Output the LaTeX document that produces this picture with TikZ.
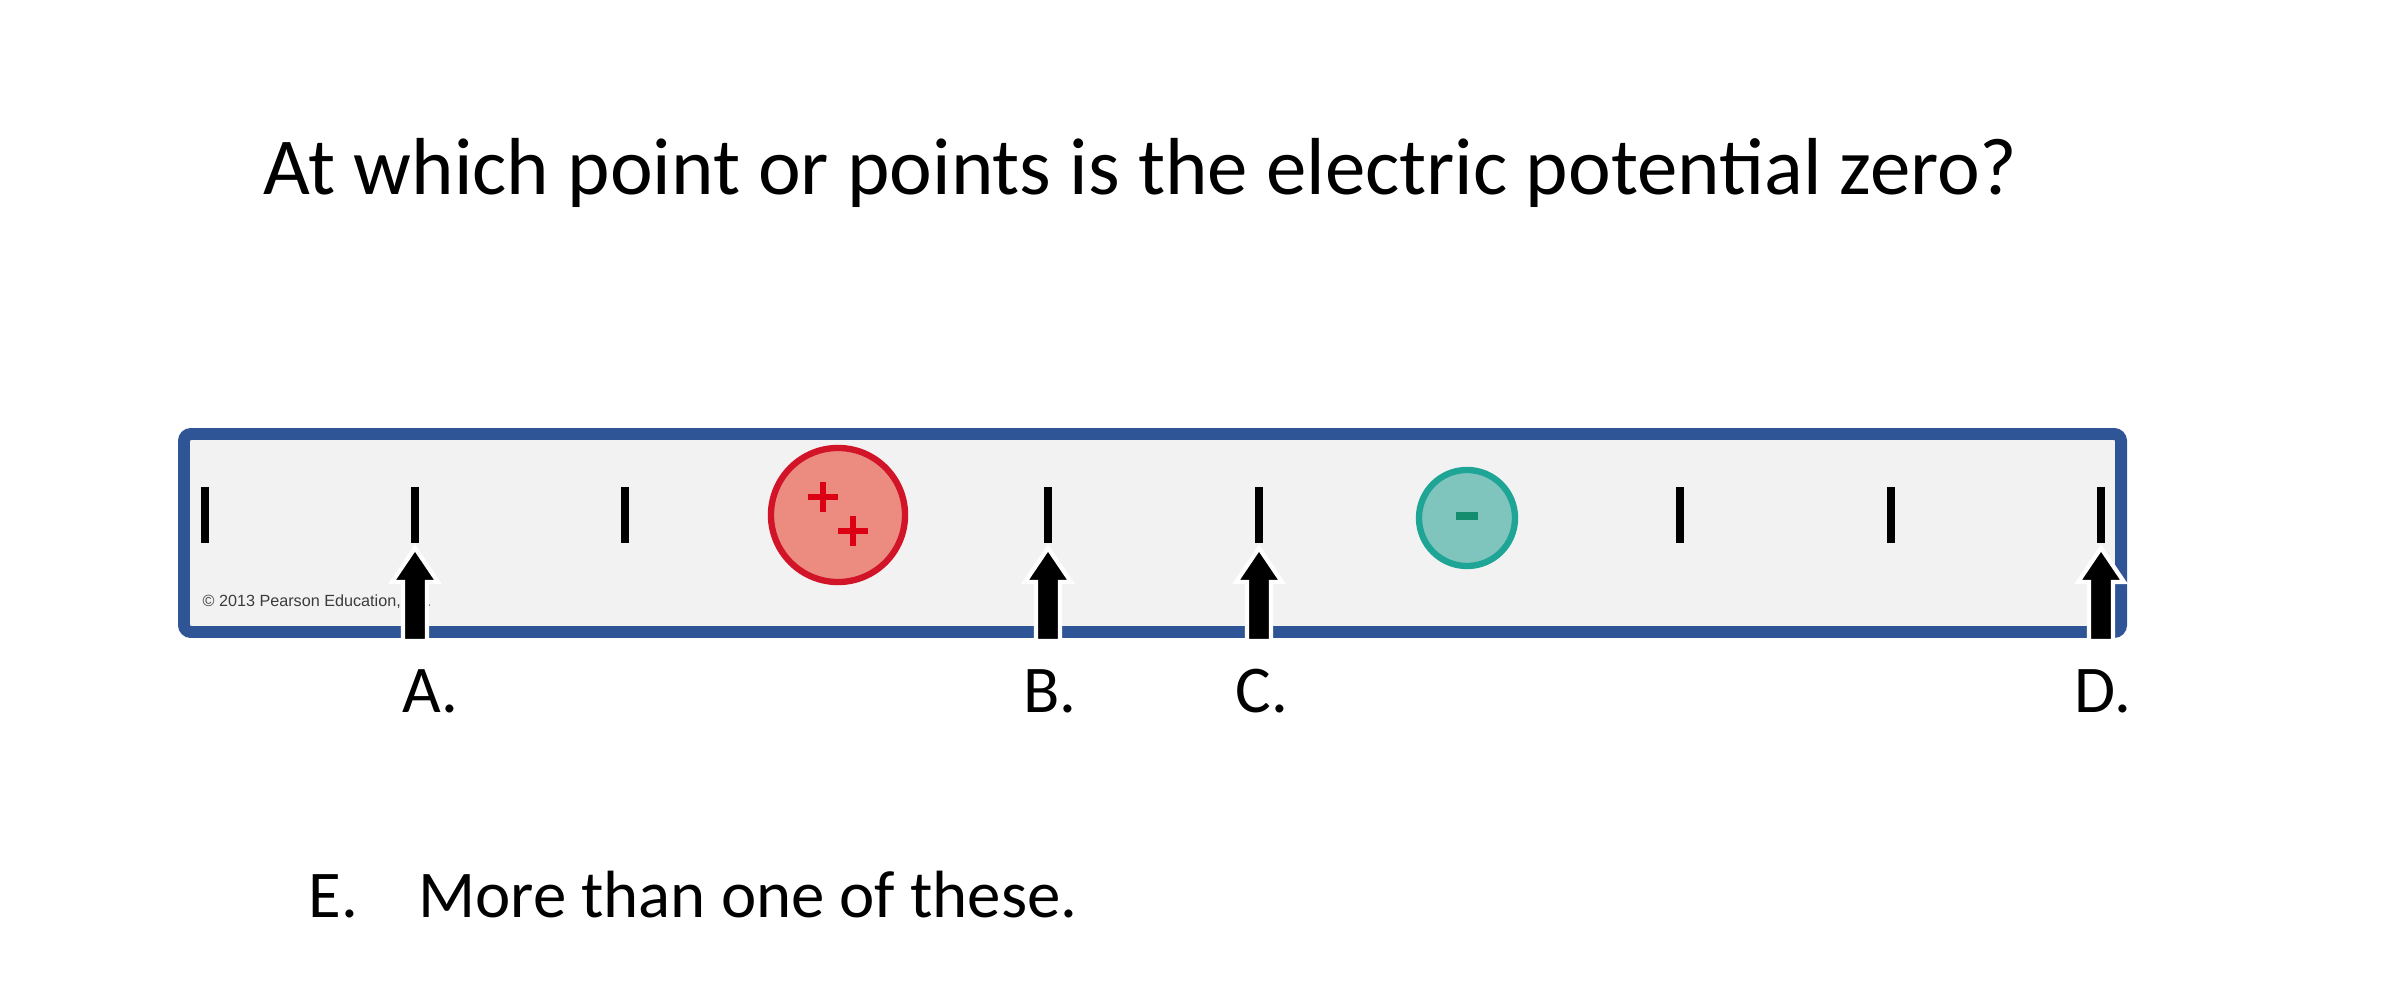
\documentclass[tikz,border=0pt]{standalone}
\usepackage{fontspec}
\setmainfont{Carlito}
\newfontfamily\arialf{Liberation Sans}
\definecolor{boxbg}{RGB}{242,242,242}
\definecolor{boxbd}{RGB}{47,85,151}
\definecolor{posfill}{RGB}{236,140,128}
\definecolor{posdraw}{RGB}{210,20,40}
\definecolor{plusc}{RGB}{220,0,20}
\definecolor{negfill}{RGB}{128,196,190}
\definecolor{negdraw}{RGB}{30,165,150}
\definecolor{minusc}{RGB}{20,140,110}
\definecolor{copyc}{RGB}{60,60,60}
\begin{document}
\begin{tikzpicture}[x=0.01cm,y=-0.01cm,
  tick/.style={line width=2.2pt},
  lbl/.style={anchor=base,inner sep=0pt,font=\fontsize{19pt}{22pt}\selectfont},
  uparrow/.style={fill=black,draw=white,line width=1.2pt}]
\useasboundingbox (0,0) rectangle (2385,1004);
\node[anchor=base west,inner sep=0pt,font=\fontsize{23pt}{27pt}\selectfont] (title) at (263,195) {At which point or points is the electric potential zero?};
\draw[fill=boxbg,draw=boxbd,line width=3.4pt,rounded corners=2pt] (184,434) rectangle (2121,632);
\foreach \x in {205,415,625,1048,1259,1680,1891,2101} \draw[tick] (\x,487) -- (\x,543);
\node[circle,minimum size=1.34cm,inner sep=0pt,fill=posfill,draw=posdraw,line width=1.8pt] (pos) at (838,515) {};
\draw[plusc,line width=1.5pt] (808,497)--(838,497) (823,482)--(823,512) (838,531)--(868,531) (853,516)--(853,546);
\node[circle,minimum size=0.96cm,inner sep=0pt,fill=negfill,draw=negdraw,line width=1.8pt] (neg) at (1467,518) {};
\draw[minusc,line width=2pt] (1456,516)--(1478,516);
\node[anchor=base west,inner sep=0pt,font=\arialf\fontsize{4.6pt}{5pt}\selectfont,text=copyc] (copy) at (202,607) {\textcopyright\ 2013 Pearson Education, Inc.};
\foreach \x/\n in {415/a,1048/b,1259/c,2101/d}{
  \coordinate (tip\n) at (\x,548);
  \draw[uparrow] (\x,548) -- (\x+23,582) -- (\x+12,582) -- (\x+12,641) -- (\x-12,641) -- (\x-12,582) -- (\x-23,582) -- cycle;
}
\node[lbl] (A) at (430,713) {A.};
\node[lbl] (B) at (1050,713) {B.};
\node[lbl] (C) at (1262,713) {C.};
\node[lbl] (D) at (2103,713) {D.};
\node[anchor=base west,inner sep=0pt,font=\fontsize{19pt}{22pt}\selectfont] (E) at (308,918) {E.\hspace{0.9em}More than one of these.};
\end{tikzpicture}
\end{document}
